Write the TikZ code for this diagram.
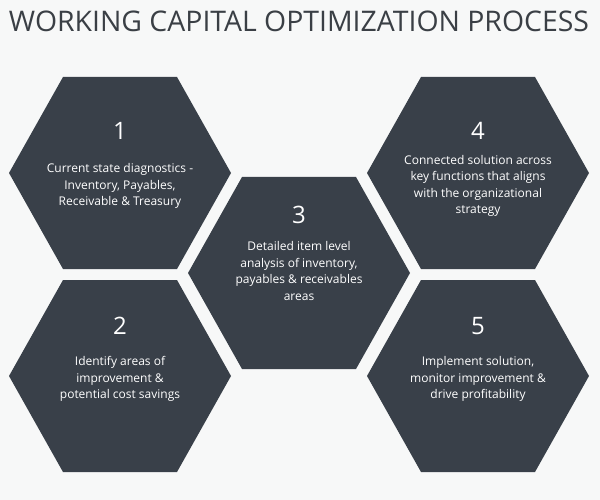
\documentclass[tikz,border=0pt]{standalone}
\usepackage{fontspec}
\setmainfont{Open Sans}
\definecolor{hexc}{HTML}{394049}
\definecolor{bgc}{HTML}{F7F8F8}
\definecolor{titc}{HTML}{3A3F45}
\begin{document}
\begin{tikzpicture}[x=1pt,y=-1pt,
  hexbox/.style={fill=hexc,draw=none},
  numtxt/.style={text=white,font=\fontsize{24}{26}\selectfont},
  bodytxt/.style={text=white,align=center,font=\fontsize{12}{16.5}\selectfont}]
\fill[bgc] (0,0) rectangle (600,500);
\useasboundingbox (0,0) rectangle (600,500);
\node[text=titc,anchor=center,inner sep=0] (title) at (299,21) {\resizebox{580pt}{!}{\fontsize{24}{26}\selectfont WORKING CAPITAL OPTIMIZATION PROCESS}};
\foreach \n/\cx/\cy in {h1/120/173,h2/120/376,h3/299/273,h4/478/173,h5/478/376}{
  \fill[hexc] (\cx-111,\cy) -- (\cx-57,\cy-96) -- (\cx+57,\cy-96) -- (\cx+111,\cy) -- (\cx+57,\cy+96) -- (\cx-57,\cy+96) -- cycle;
  \coordinate (\n) at (\cx,\cy);
}
\node[numtxt] (n1) at ([yshift=42]h1) {1};
\node[bodytxt] (t1) at ([yshift=-13]h1) {Current state diagnostics -\\Inventory, Payables,\\Receivable \& Treasury};
\node[numtxt] (n2) at ([yshift=50]h2) {2};
\node[bodytxt] (t2) at ([yshift=-3]h2) {Identify areas of\\improvement \&\\potential cost savings};
\node[numtxt] (n3) at ([yshift=58]h3) {3};
\node[bodytxt] (t3) at ([yshift=2]h3) {Detailed item level\\analysis of inventory,\\payables \& receivables\\areas};
\node[numtxt] (n4) at ([yshift=42]h4) {4};
\node[bodytxt] (t4) at ([yshift=-13]h4) {Connected solution across\\key functions that aligns\\with the organizational\\strategy};
\node[numtxt] (n5) at ([yshift=50]h5) {5};
\node[bodytxt] (t5) at ([yshift=-3]h5) {Implement solution,\\monitor improvement \&\\drive profitability};
\end{tikzpicture}
\end{document}
